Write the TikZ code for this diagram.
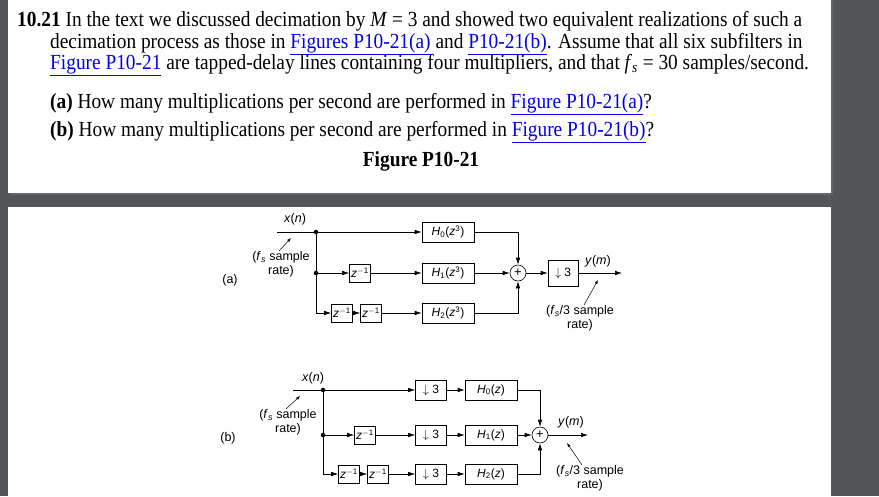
\documentclass[tikz,border=0pt]{standalone}
\usepackage{fontspec}
\setmainfont{Liberation Serif}
\newfontfamily\diagfont{Liberation Sans}
\usetikzlibrary{arrows.meta,positioning}
\definecolor{viewer}{HTML}{525659}
\definecolor{link}{HTML}{0000EE}
\newcommand{\lnk}[1]{\textcolor{link}{\underline{#1}}}
\newcommand{\Hf}[2]{\textit{H}\textsubscript{#1}(\textit{z}\textsuperscript{#2})}
\newcommand{\Hz}[1]{\textit{H}\textsubscript{#1}(\textit{z})}
\newcommand{\zinv}{\textit{z}\textsuperscript{$-$1}}
\newcommand{\fsub}{\textit{f}\textsubscript{\textit{s}}}
\newcommand{\narrow}[1]{\scalebox{0.9}[1]{#1}}
\tikzset{
  txt/.style={anchor=base west, inner sep=0pt, font=\fontsize{21.5}{22}\selectfont},
  blk/.style={draw, line width=0.6pt, inner sep=0pt, font=\diagfont\fontsize{12}{13}\selectfont},
  hbox/.style={blk, minimum width=52pt, minimum height=20pt},
  dbox/.style={blk, minimum width=21pt, minimum height=18pt},
  qbox/.style={blk, minimum width=31pt, minimum height=20pt},
  adder/.style={draw, circle, line width=0.6pt, minimum size=16pt, inner sep=0pt, font=\diagfont\fontsize{13}{13}\selectfont},
  lbl/.style={inner sep=0pt, align=center, font=\diagfont\fontsize{12.5}{14}\selectfont},
  sig/.style={line width=0.6pt, -{Latex[length=7pt,width=4.5pt]}},
  wire/.style={line width=0.6pt},
  note/.style={line width=0.5pt, -{Latex[length=4pt,width=3pt]}},
  dot/.style={fill, circle, inner sep=1.6pt}
}
\begin{document}
\begin{tikzpicture}[x=1pt,y=-1pt]
  \useasboundingbox (0,0) rectangle (879,496);
  \fill[viewer] (0,0) rectangle (879,496);
  % page panels
  \fill[black!60] (10,-5) rectangle (833,195);
  \fill[white] (8,-5) rectangle (831,193);
  \fill[white] (8,207) rectangle (831,500);

  % problem text
  \node[txt] (l1) at (17,26) {\narrow{\textbf{10.21} In the text we discussed decimation by \textit{M} = 3 and showed two equivalent realizations of such a}};
  \node[txt] (l2) at (50,48) {\narrow{decimation process as those in \lnk{Figures P10-21(a)} and \lnk{P10-21(b)}. Assume that all six subfilters in}};
  \node[txt] (l3) at (50,69) {\narrow{\lnk{Figure P10-21} are tapped-delay lines containing four multipliers, and that \textit{f}\textsubscript{\textit{s}} = 30 samples/second.}};
  \node[txt] (qa) at (50,108) {\narrow{\textbf{(a)} How many multiplications per second are performed in \lnk{Figure P10-21(a)}?}};
  \node[txt] (qb) at (50,136) {\narrow{\textbf{(b)} How many multiplications per second are performed in \lnk{Figure P10-21(b)}?}};
  \node[txt, anchor=base] (cap) at (421,166) {\narrow{\textbf{Figure P10-21}}};

  % (a)
  \node[lbl] (tagA) at (230,280) {(a)};
  \coordinate (inA) at (277,232);
  \coordinate (jaA) at (316,232);
  \coordinate (jbA) at (316,273);
  \coordinate (jcA) at (316,313);
  \coordinate (outA) at (622,273);
  \coordinate (tipA) at (291,238);
  \coordinate (tip3A) at (598,280);
  \node[hbox] (h0A) at (448,232) {\Hf{0}{3}};
  \node[hbox] (h1A) at (448,273) {\Hf{1}{3}};
  \node[hbox] (h2A) at (448,313) {\Hf{2}{3}};
  \node[dbox] (d1A) at (360,273) {\zinv};
  \node[dbox] (d21A) at (342,313) {\zinv};
  \node[dbox] (d22A) at (371,313) {\zinv};
  \node[adder] (sumA) at (518,273) {+};
  \node[qbox, minimum width=30pt, minimum height=26pt] (dsA) at (563,273) {$\downarrow$ 3};
  \node[dot] at (jaA) {};
  \node[dot] at (jbA) {};
  \draw[wire] (inA) -- (jaA) -- (jcA);
  \draw[sig] (jaA) -- (h0A);
  \draw[sig] (jbA) -- (d1A);
  \draw[sig] (d1A) -- (h1A);
  \draw[sig] (jcA) -- (d21A);
  \draw[sig] (d21A) -- (d22A);
  \draw[sig] (d22A) -- (h2A);
  \draw[sig] (h0A) -| (sumA);
  \draw[sig] (h1A) -- (sumA);
  \draw[sig] (h2A) -| (sumA);
  \draw[sig] (sumA) -- (dsA);
  \draw[sig] (dsA) -- (outA);
  \node[lbl] (xA) at (295,219) {\textit{x}(\textit{n})};
  \node[lbl] (yA) at (598,261) {\textit{y}(\textit{m})};
  \node[lbl] (fsA) at (281,264) {(\fsub\ sample\\rate)};
  \node[lbl] (fs3A) at (580,318) {(\fsub/3 sample\\rate)};
  \draw[note] ([xshift=-2pt]fsA.north) -- (tipA);
  \draw[note] ([xshift=4pt]fs3A.north) -- (tip3A);

  % (b)
  \node[lbl] (tagB) at (228,438) {(b)};
  \coordinate (inB) at (293,390);
  \coordinate (jaB) at (323,390);
  \coordinate (jbB) at (323,435);
  \coordinate (jcB) at (323,474);
  \coordinate (outB) at (588,435);
  \coordinate (tipB) at (300,396);
  \coordinate (tip3B) at (567,443);
  \node[hbox] (h0B) at (491,390) {\Hz{0}};
  \node[hbox] (h1B) at (491,435) {\Hz{1}};
  \node[hbox] (h2B) at (491,474) {\Hz{2}};
  \node[qbox] (q0B) at (431,390) {$\downarrow$ 3};
  \node[qbox] (q1B) at (431,435) {$\downarrow$ 3};
  \node[qbox] (q2B) at (431,474) {$\downarrow$ 3};
  \node[dbox] (d1B) at (365,435) {\zinv};
  \node[dbox] (d21B) at (349,474) {\zinv};
  \node[dbox] (d22B) at (378,474) {\zinv};
  \node[adder] (sumB) at (540,435) {+};
  \node[dot] at (jaB) {};
  \node[dot] at (jbB) {};
  \draw[wire] (inB) -- (jaB) -- (jcB);
  \draw[sig] (jaB) -- (q0B);
  \draw[sig] (jbB) -- (d1B);
  \draw[sig] (d1B) -- (q1B);
  \draw[sig] (jcB) -- (d21B);
  \draw[sig] (d21B) -- (d22B);
  \draw[sig] (d22B) -- (q2B);
  \draw[sig] (q0B) -- (h0B);
  \draw[sig] (q1B) -- (h1B);
  \draw[sig] (q2B) -- (h2B);
  \draw[sig] (h0B) -| (sumB);
  \draw[sig] (h1B) -- (sumB);
  \draw[sig] (h2B) -| (sumB);
  \draw[sig] (sumB) -- (outB);
  \node[lbl] (xB) at (313,378) {\textit{x}(\textit{n})};
  \node[lbl] (yB) at (571,422) {\textit{y}(\textit{m})};
  \node[lbl] (fsB) at (288,422) {(\fsub\ sample\\rate)};
  \node[lbl] (fs3B) at (590,478) {(\fsub/3 sample\\rate)};
  \draw[note] ([xshift=-2pt]fsB.north) -- (tipB);
  \draw[note] ([xshift=-8pt]fs3B.north) -- (tip3B);
\end{tikzpicture}
\end{document}
